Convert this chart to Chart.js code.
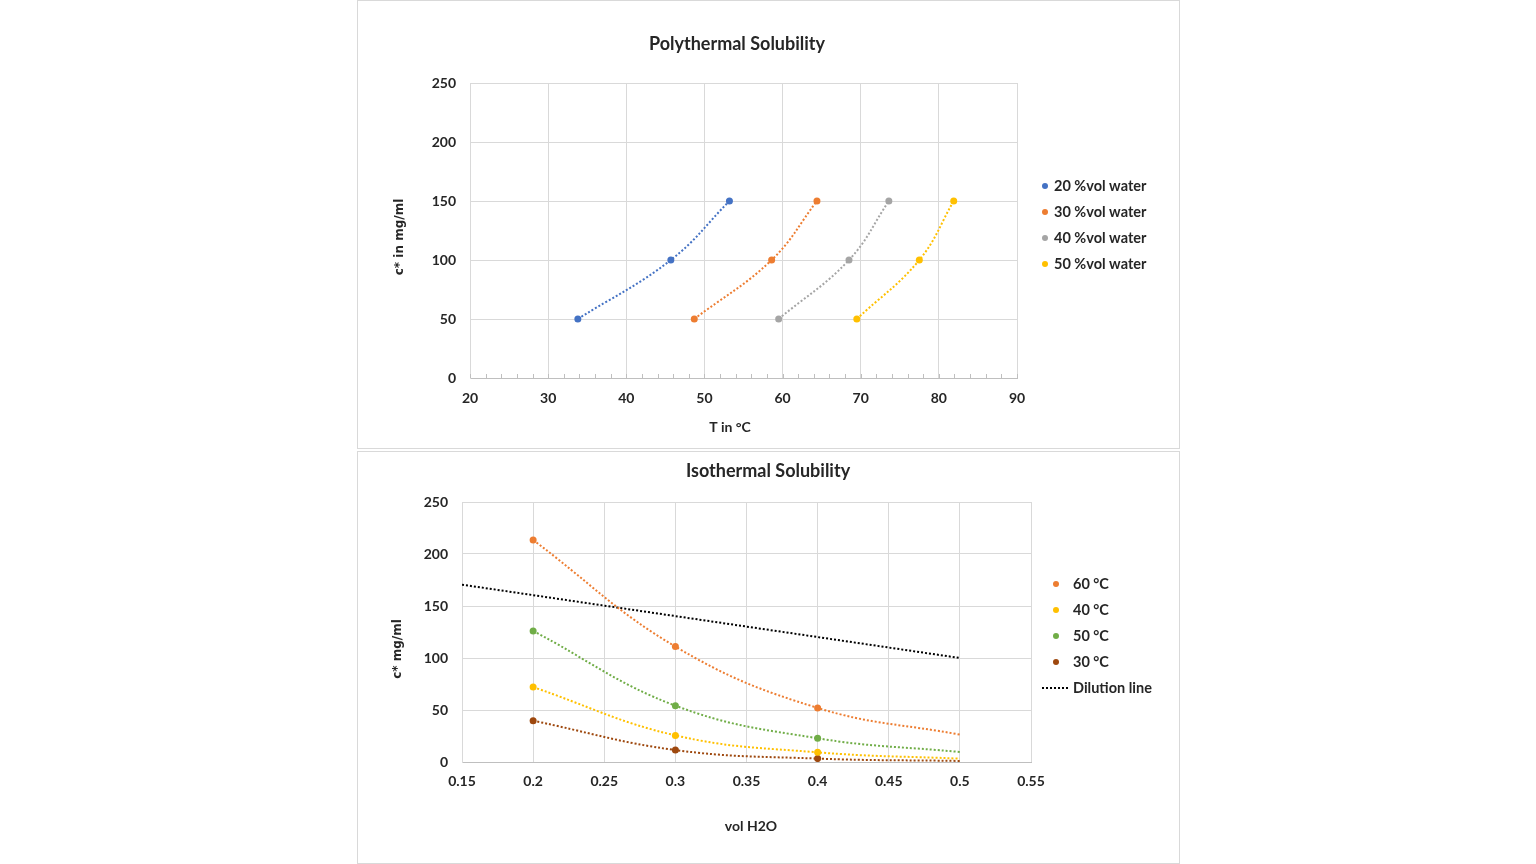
<!DOCTYPE html>
<html>
<head>
<meta charset="utf-8">
<title>Solubility</title>
<script src="https://cdn.jsdelivr.net/npm/chart.js@4.4.1/dist/chart.umd.min.js"></script>
<style>
  html, body { margin: 0; padding: 0; background: #fff; }
  .panel { position: absolute; left: 357px; width: 823px; border: 1px solid #d9d9d9; box-sizing: border-box; background: #fff; }
  #polyPanel { top: 0; height: 449px; }
  #isoPanel { top: 451px; height: 413px; }
  canvas { display: block; }
</style>
</head>
<body>
<div class="panel" id="polyPanel"><canvas id="polyChart" width="821" height="447"></canvas></div>
<div class="panel" id="isoPanel"><canvas id="isoChart" width="821" height="411"></canvas></div>
<script>
// Polythermal: temperature (°C) at which each concentration (mg/ml) dissolves
const polyConc = [50, 100, 150]
const polyT20 = [33.8, 45.7, 53.2]
const polyT30 = [48.7, 58.6, 64.4]
const polyT40 = [59.5, 68.5, 73.6]
const polyT50 = [69.5, 77.5, 81.9]
const polyTicksX = [20, 30, 40, 50, 60, 70, 80, 90]
const polyTicksY = [0, 50, 100, 150, 200, 250]

// Isothermal: solubility vs volume fraction of water (last point = trendline end)
const isoVol = [0.2, 0.3, 0.4, 0.5]
const iso60 = [213.5, 111, 52, 26.3]
const iso40 = [72, 25.6, 9.3, 3.2]
const iso50 = [126, 54.2, 22.8, 9.6]
const iso30 = [39.7, 11.5, 3.3, 1]
const dilutionVol = [0.15, 0.5]
const dilutionConc = [170.5, 100]
const isoTicksX = [0.15, 0.2, 0.25, 0.3, 0.35, 0.4, 0.45, 0.5, 0.55]
const isoTicksY = [0, 50, 100, 150, 200, 250]

const TEXT = "#262626"
const GRID = "#d9d9d9"

Chart.defaults.font.family = "Lato"
Chart.defaults.color = TEXT

const toPoints = (xs, ys) => xs.map((x, i) => ({ x, y: ys[i] }))

function trendSeries(label, color, xs, ys, radii) {
  return {
    label,
    data: toPoints(xs, ys),
    showLine: true,
    borderColor: color,
    backgroundColor: color,
    borderWidth: 2,
    borderDash: [2, 2],
    tension: 0.4,
    pointRadius: radii || 3.5,
    pointBorderWidth: 0,
    pointHoverRadius: 3.5,
  }
}

// titles, legend and minor tick marks placed like the Excel original
const panelDecor = {
  id: "panelDecor",
  afterDraw(chart, args, opts) {
    const ctx = chart.ctx
    ctx.save()
    ctx.fillStyle = TEXT
    ctx.textBaseline = "middle"
    ctx.textAlign = "center"
    ctx.font = "bold 18px Lato"
    ctx.fillText(opts.title, opts.titleX, opts.titleY)

    ctx.font = "bold 14px Lato"
    ctx.fillText(opts.xTitle, opts.xTitleX, opts.xTitleY)

    ctx.save()
    ctx.font = "bold 12px 'DejaVu Sans'"
    ctx.translate(opts.yTitleX, opts.yTitleY)
    ctx.rotate(-Math.PI / 2)
    ctx.fillText(opts.yTitle, 0, 0)
    ctx.restore()

    ctx.font = "bold 14.5px Lato"
    ctx.textAlign = "left"
    chart.data.datasets.forEach((ds, i) => {
      const y = opts.legendY + i * 26
      if (ds.pointRadius === 0) {
        ctx.save()
        ctx.strokeStyle = ds.borderColor
        ctx.lineWidth = 2
        ctx.setLineDash([2, 2])
        ctx.beginPath()
        ctx.moveTo(opts.markX - 14, y)
        ctx.lineTo(opts.markX + 14, y)
        ctx.stroke()
        ctx.restore()
      } else {
        ctx.fillStyle = ds.borderColor
        ctx.beginPath()
        ctx.arc(opts.markX, y, 3, 0, Math.PI * 2)
        ctx.fill()
      }
      ctx.fillStyle = TEXT
      ctx.fillText(ds.label, opts.textX, y)
    })

    if (opts.minorStep) {
      const xs = chart.scales.x
      const bottom = chart.chartArea.bottom
      ctx.strokeStyle = "#bfbfbf"
      ctx.lineWidth = 1
      for (let v = xs.min; v <= xs.max; v += opts.minorStep) {
        const px = Math.round(xs.getPixelForValue(v)) + 0.5
        ctx.beginPath()
        ctx.moveTo(px, bottom)
        ctx.lineTo(px, bottom - 4)
        ctx.stroke()
      }
    }
    ctx.restore()
  },
}

function axisX(ticks, height, tickPad, fmt) {
  return {
    type: "linear",
    min: ticks[0],
    max: ticks[ticks.length - 1],
    afterBuildTicks: (s) => { s.ticks = ticks.map((v) => ({ value: v })) },
    afterFit: (s) => { s.height = height },
    grid: { color: GRID, drawTicks: false },
    border: { color: "#bfbfbf" },
    ticks: { padding: tickPad, font: { size: 14, weight: "bold" }, callback: fmt || ((v) => v) },
  }
}

function axisY(ticks, width) {
  return {
    type: "linear",
    min: ticks[0],
    max: ticks[ticks.length - 1],
    afterBuildTicks: (s) => { s.ticks = ticks.map((v) => ({ value: v })) },
    afterFit: (s) => { s.width = width },
    grid: { color: GRID, drawTicks: false },
    border: { color: GRID },
    ticks: { padding: 14, font: { size: 14, weight: "bold" } },
  }
}

new Chart(document.getElementById("polyChart"), {
  type: "scatter",
  data: {
    datasets: [
      trendSeries("20 %vol water", "#4472C4", polyT20, polyConc),
      trendSeries("30 %vol water", "#ED7D31", polyT30, polyConc),
      trendSeries("40 %vol water", "#A5A5A5", polyT40, polyConc),
      trendSeries("50 %vol water", "#FFC000", polyT50, polyConc),
    ],
  },
  options: {
    responsive: false,
    animation: false,
    layout: { padding: { top: 82, right: 162, bottom: 0, left: 0 } },
    plugins: {
      legend: { display: false },
      tooltip: { enabled: false },
      panelDecor: {
        title: "Polythermal Solubility", titleX: 379, titleY: 43,
        xTitle: "T in °C", xTitleX: 372, xTitleY: 426,
        yTitle: "c* in mg/ml", yTitleX: 42, yTitleY: 236,
        legendY: 185, markX: 687, textX: 696, minorStep: 2,
      },
    },
    scales: {
      x: axisX(polyTicksX, 70, 12),
      y: axisY(polyTicksY, 112),
    },
  },
  plugins: [panelDecor],
})

new Chart(document.getElementById("isoChart"), {
  type: "scatter",
  data: {
    datasets: [
      trendSeries("60 °C", "#ED7D31", isoVol, iso60, [3.5, 3.5, 3.5, 0.01]),
      trendSeries("40 °C", "#FFC000", isoVol, iso40, [3.5, 3.5, 3.5, 0.01]),
      trendSeries("50 °C", "#70AD47", isoVol, iso50, [3.5, 3.5, 3.5, 0.01]),
      trendSeries("30 °C", "#9E480E", isoVol, iso30, [3.5, 3.5, 3.5, 0.01]),
      Object.assign(trendSeries("Dilution line", "#000000", dilutionVol, dilutionConc), { pointRadius: 0, tension: 0 }),
    ],
  },
  options: {
    responsive: false,
    animation: false,
    layout: { padding: { top: 50, right: 148, bottom: 0, left: 0 } },
    plugins: {
      legend: { display: false },
      tooltip: { enabled: false },
      panelDecor: {
        title: "Isothermal Solubility", titleX: 410, titleY: 19,
        xTitle: "vol H2O", xTitleX: 393, xTitleY: 374,
        yTitle: "c* mg/ml", yTitleX: 40, yTitleY: 197,
        legendY: 132, markX: 698, textX: 715,
      },
    },
    scales: {
      x: axisX(isoTicksX, 101, 11, (v) => String(Math.round(v * 100) / 100)),
      y: axisY(isoTicksY, 104),
    },
  },
  plugins: [panelDecor],
})
</script>
</body>
</html>
